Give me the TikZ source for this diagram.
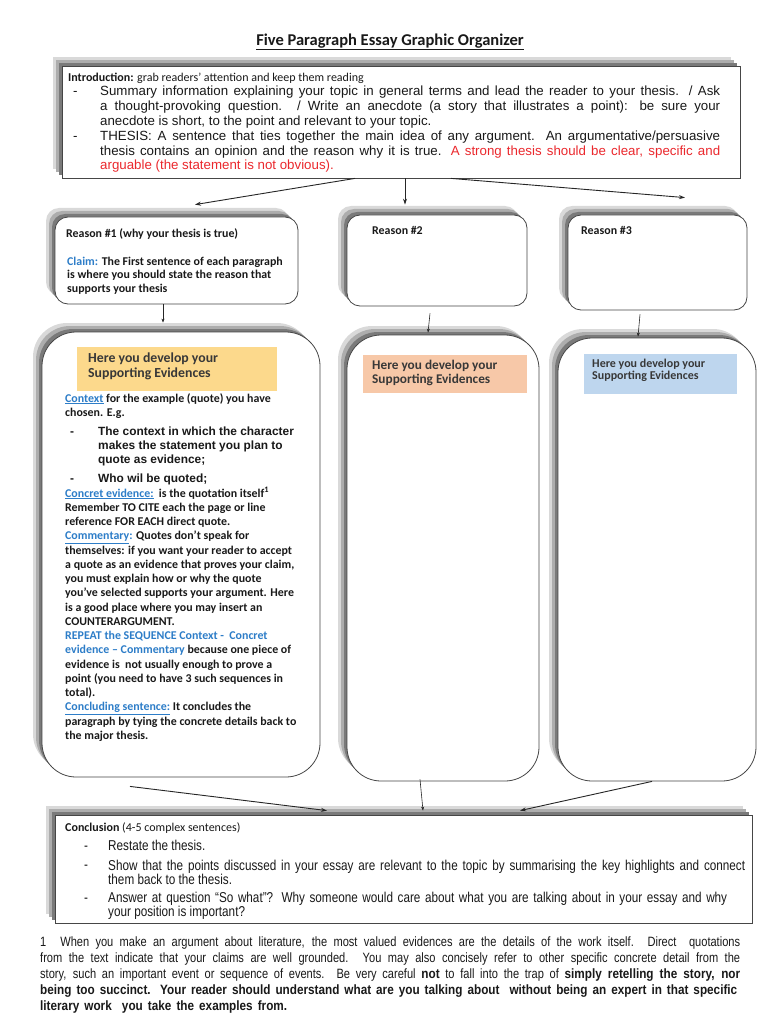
\documentclass[tikz,border=0pt]{standalone}
\usepackage{fontspec}
\setmainfont{Carlito}
\newfontfamily\calfont{Carlito}
\newfontfamily\arifont{Liberation Sans}
\newfontfamily\arnfont{Liberation Sans}[FakeStretch=0.82, BoldFeatures={FakeStretch=0.87}]
\usetikzlibrary{arrows.meta}
\definecolor{ink}{RGB}{25,25,25}
\definecolor{myblue}{RGB}{45,125,200}
\definecolor{myred}{RGB}{235,40,45}
\definecolor{myyellow}{RGB}{252,217,140}
\definecolor{myorange}{RGB}{247,200,168}
\definecolor{mylblue}{RGB}{190,214,238}
\definecolor{edge}{RGB}{70,70,70}
\newcommand\stt[1]{\rule{0pt}{#1}}
% shadow: centre x, centre y, width, height, corner radius
\newcommand\shd[5]{%
  \foreach \o/\c in {9/15,6/32,3/52}{%
    \fill[black!\c, rounded corners=#5] ({#1-#3/2-\o},{#2-#4/2-\o}) rectangle ({#1+#3/2-\o},{#2+#4/2-\o});}}
\tikzset{
  sbox/.style={draw=edge, line width=0.8pt, fill=white, inner sep=0pt},
  rbox/.style={sbox, rounded corners=13pt},
  bbox/.style={sbox, rounded corners=34pt},
  arr/.style={-{Stealth[length=6pt,width=4pt]}, line width=0.9pt, draw=black!85},
  sarr/.style={-{Stealth[length=4pt,width=3pt]}, line width=0.6pt, draw=black!85},
  t/.style={inner sep=0pt, anchor=base west, text=ink},
  blk/.style={inner sep=0pt, anchor=north west, align=left, text=ink},
  fbox/.style={inner sep=0pt, draw=none},
}
\begin{document}
\begin{tikzpicture}[x=1pt,y=-1pt]
\useasboundingbox (0,0) rectangle (768,1024);
\fill[white] (0,0) rectangle (768,1024);

% title
\node[inner sep=0pt, text=ink, font=\calfont\bfseries\fontsize{16.5}{19}\selectfont] (title) at (390,42) {\underline{Five Paragraph Essay Graphic Organizer}};

% boxes with shadows
\shd{401}{122}{678}{112}{0pt}
\node[sbox, minimum width=678pt, minimum height=112pt] (intro) at (401,122) {};
\shd{176.5}{260.5}{243}{87}{13pt}
\node[rbox, minimum width=243pt, minimum height=87pt] (r1) at (176.5,260.5) {};
\shd{437}{260.5}{180}{91}{13pt}
\node[rbox, minimum width=180pt, minimum height=91pt] (r2) at (437,260.5) {};
\shd{657.5}{262.5}{179}{95}{13pt}
\node[rbox, minimum width=179pt, minimum height=95pt] (r3) at (657.5,262.5) {};
\shd{181}{554.5}{278}{445}{34pt}
\node[bbox, minimum width=278pt, minimum height=445pt] (b1) at (181,554.5) {};
\shd{443}{558}{192}{446}{34pt}
\node[bbox, minimum width=192pt, minimum height=446pt] (b2) at (443,558) {};
\shd{657}{559.5}{198}{443}{34pt}
\node[bbox, minimum width=198pt, minimum height=443pt] (b3) at (657,559.5) {};
\shd{403.5}{869}{697}{108}{0pt}
\node[sbox, minimum width=697pt, minimum height=108pt] (concl) at (403.5,869) {};

% intro text
\node[t, font=\calfont\fontsize{12}{15}\selectfont] (ihead) at (68,81.5) {\textbf{Introduction:} grab readers’ attention and keep them reading};
\node[t, font=\arifont\fontsize{13.3}{15}\selectfont] (ib1) at (73,95.7) {-};
\node[t, font=\arifont\fontsize{13.3}{15}\selectfont] (ib2) at (73,140.7) {-};
\node[blk, font=\arifont\fontsize{13.3}{15}\selectfont] (ip1) at (100,85.7) {\stt{10pt}\makebox[620pt][s]{Summary information explaining your topic in general terms and lead the reader to your thesis. / Ask}\\
\makebox[620pt][s]{a thought-provoking question. / Write an anecdote (a story that illustrates a point): be sure your}\\
anecdote is short, to the point and relevant to your topic.};
\node[blk, font=\arifont\fontsize{13.3}{14.4}\selectfont] (ip2) at (100,130.7) {\stt{10pt}\makebox[620pt][s]{THESIS: A sentence that ties together the main idea of any argument. An argumentative/persuasive}\\
\makebox[620pt][s]{thesis contains an opinion and the reason why it is true. \textcolor{myred}{A strong thesis should be clear, specific and}}\\
\textcolor{myred}{arguable (the statement is not obvious).}};

% reasons
\node[t, font=\calfont\bfseries\fontsize{11.9}{14}\selectfont] (r1t) at (66,237) {Reason \#1 (why your thesis is true)};
\node[blk, font=\calfont\bfseries\fontsize{11.9}{13.6}\selectfont] (r1c) at (67,255) {\stt{10pt}\textcolor{myblue}{Claim:} The First sentence of each paragraph\\is where you should state the reason that\\supports your thesis};
\node[t, font=\calfont\bfseries\fontsize{11.9}{14}\selectfont] (r2t) at (372,235) {Reason \#2};
\node[t, font=\calfont\bfseries\fontsize{11.9}{14}\selectfont] (r3t) at (581,235) {Reason \#3};

% coloured heads
\node[fbox, fill=myyellow, minimum width=200pt, minimum height=44pt] (yel) at (177,369) {};
\node[fbox, fill=myorange, minimum width=164pt, minimum height=38pt] (ora) at (445,374) {};
\node[fbox, fill=mylblue, minimum width=153pt, minimum height=40pt] (blu) at (660.5,374) {};
\node[blk, text=black!78, font=\calfont\bfseries\fontsize{13.8}{15}\selectfont] (yelt) at (88,352) {\stt{10pt}Here you develop your\\Supporting Evidences};
\node[blk, text=black!78, font=\calfont\bfseries\fontsize{13.3}{14}\selectfont] (orat) at (372,359) {\stt{10pt}Here you develop your\\Supporting Evidences};
\node[blk, text=black!78, font=\calfont\bfseries\fontsize{12}{12.5}\selectfont] (blut) at (592,357) {\stt{10pt}Here you develop your\\Supporting Evidences};

% left box text
\node[blk, font=\calfont\bfseries\fontsize{11.9}{14}\selectfont] (la) at (65,392) {\stt{10pt}\textcolor{myblue}{\underline{Context}} for the example (quote) you have\\chosen. E.g.};
\node[t, font=\arifont\bfseries\fontsize{11.9}{14}\selectfont] (lb1) at (70,435) {-};
\node[blk, font=\arifont\bfseries\fontsize{11.9}{14}\selectfont] (lb) at (98,425) {\stt{10pt}The context in which the character\\makes the statement you plan to\\quote as evidence;};
\node[t, font=\arifont\bfseries\fontsize{11.9}{14}\selectfont] (lb2) at (70,482) {-};
\node[t, font=\arifont\bfseries\fontsize{11.9}{14}\selectfont] (lw) at (98,482) {Who wil be quoted;};
\node[blk, font=\calfont\bfseries\fontsize{11.9}{14.24}\selectfont] (lc) at (65,487) {\stt{10pt}\textcolor{myblue}{\underline{Concret evidence:}}\ \ is the quotation itself\textsuperscript{1}\\
Remember TO CITE each the page or line\\
reference FOR EACH direct quote.\\
\textcolor{myblue}{\underline{Commentary}:} Quotes don’t speak for\\
themselves: if you want your reader to accept\\
a quote as an evidence that proves your claim,\\
you must explain how or why the quote\\
you’ve selected supports your argument. Here\\
is a good place where you may insert an\\
COUNTERARGUMENT.\\
\textcolor{myblue}{REPEAT the SEQUENCE Context -\ \ Concret}\\
\textcolor{myblue}{evidence – Commentary} because one piece of\\
evidence is\ \ not usually enough to prove a\\
point (you need to have 3 such sequences in\\
total).\\
\textcolor{myblue}{\underline{Concluding sentence:}} It concludes the\\
paragraph by tying the concrete details back to\\
the major thesis.};

% conclusion text
\node[t, font=\calfont\fontsize{12}{15}\selectfont] (chead) at (65,831) {\textbf{Conclusion} (4-5 complex sentences)};
\node[t, font=\arnfont\fontsize{14.3}{15}\selectfont] (cb1) at (84,850) {-};
\node[t, font=\arnfont\fontsize{14.3}{15}\selectfont] (cb2) at (84,869.5) {-};
\node[t, font=\arnfont\fontsize{14.3}{15}\selectfont] (cb3) at (84,902) {-};
\node[t, font=\arnfont\fontsize{14.3}{15}\selectfont] (c1) at (108,850) {Restate the thesis.};
\node[blk, font=\arnfont\fontsize{14.3}{14.5}\selectfont] (c2) at (108,859.5) {\stt{10pt}\makebox[637pt][s]{Show that the points discussed in your essay are relevant to the topic by summarising the key highlights and connect}\\them back to the thesis.};
\node[blk, font=\arnfont\fontsize{14.3}{14}\selectfont] (c3) at (108,892) {\stt{10pt}\makebox[619pt][s]{Answer at question “So what”? Why someone would care about what you are talking about in your essay and why}\\your position is important?};

% footnote
\node[blk, font=\arnfont\fontsize{13.5}{16}\selectfont] (fn) at (40,935) {\stt{11pt}\makebox[700pt][s]{1\hspace{14pt}When you make an argument about literature, the most valued evidences are the details of the work itself. Direct\ \ quotations}\\
\makebox[700pt][s]{from the text indicate that your claims are well grounded. You may also concisely refer to other specific concrete detail from the}\\
\makebox[700pt][s]{story, such an important event or sequence of events. Be very careful \textbf{not} to fall into the trap of \textbf{simply retelling the story, nor}}\\
\makebox[697pt][s]{\bfseries being too succinct. Your reader should understand what are you talking about\ \ without being an expert in that specific}\\
\makebox[247pt][s]{\bfseries literary work\ \ you take the examples from.}};

% connectors
\draw[arr] ([xshift=-46pt]intro.south) -- ([xshift=18.5pt,yshift=12pt]r1.north);
\draw[arr] ([xshift=4pt]intro.south) -- ([xshift=-32pt,yshift=10pt]r2.north);
\draw[arr] ([xshift=50pt]intro.south) -- ([xshift=27.5pt,yshift=17pt]r3.north);
\draw[sarr] ([xshift=-13.5pt]r1.south) -- ([xshift=-18pt,yshift=9pt]b1.north);
\draw[sarr] ([xshift=-7pt,yshift=-7pt]r2.south) -- ([xshift=-15pt,yshift=2pt]b2.north);
\draw[sarr] ([xshift=-17.5pt,yshift=-4pt]r3.south) -- ([xshift=-19pt,yshift=1pt]b3.north);
\draw[arr] ([xshift=-51pt,yshift=-9pt]b1.south) -- ([xshift=-76.5pt,yshift=4pt]concl.north);
\draw[sarr] ([xshift=-23pt,yshift=2pt]b2.south) -- ([xshift=19.5pt,yshift=4pt]concl.north);
\draw[arr] ([xshift=-5pt]b3.south) -- ([xshift=116.5pt,yshift=4pt]concl.north);
\end{tikzpicture}
\end{document}
